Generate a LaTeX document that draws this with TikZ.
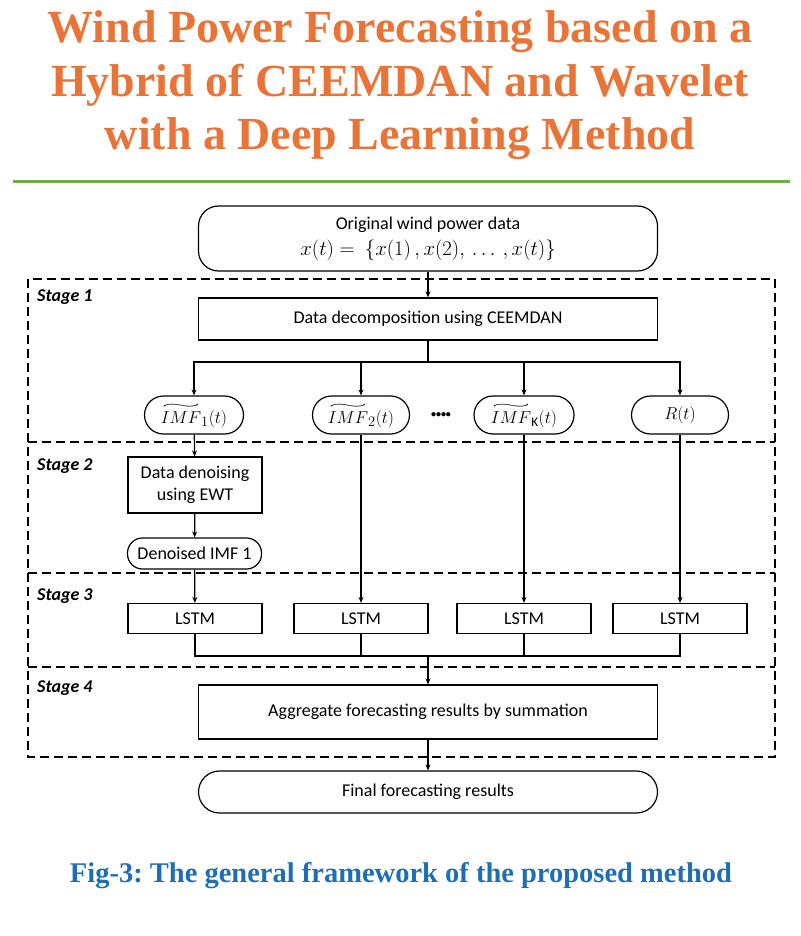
\documentclass[tikz,border=0pt]{standalone}
\usepackage{fontspec}
\usepackage{amsmath}
\usepackage{calc}
\setmainfont{Carlito}
\newfontfamily\titlefont{Liberation Serif}
\usetikzlibrary{arrows.meta}
\definecolor{titleorange}{RGB}{233,116,55}
\definecolor{captionblue}{RGB}{31,110,180}
\definecolor{rulegreen}{RGB}{112,173,71}
\newcommand{\wtilde}[1]{\overset{\resizebox{\widthof{$#1$}}{0.22em}{$\sim$}}{#1}}
\begin{document}
\begin{tikzpicture}[x=1pt, y=-1pt,
    box/.style={rectangle, draw=black, line width=1.2pt, fill=white, inner sep=0pt,
        font=\fontsize{18}{22}\selectfont, align=center},
    pill/.style={box, rounded corners=#1},
    pill/.default=15pt,
    stagebox/.style={draw=black, line width=1.6pt, dash pattern=on 9pt off 5pt},
    stagelabel/.style={anchor=base west, inner sep=0pt, font=\fontsize{18}{22}\selectfont\bfseries\itshape},
    flow/.style={-{Stealth[length=6pt, width=5pt]}, line width=1.2pt},
    link/.style={line width=1.2pt},
    titleline/.style={anchor=base, inner sep=0pt, text=titleorange, font=\titlefont\bfseries\fontsize{46}{52}\selectfont}
]
    \useasboundingbox (0,0) rectangle (800,936);

    % title
    \node[titleline] (t1) at (400,43) {Wind Power Forecasting based on a};
    \node[titleline] (t2) at (400,97) {Hybrid of CEEMDAN and Wavelet};
    \node[titleline] (t3) at (400,150) {with a Deep Learning Method};
    \draw[rulegreen, line width=3pt] (13,182) -- (790,182);

    % stages
    \draw[stagebox] (28,279) rectangle (775,757);
    \draw[stagebox] (28,442) -- (775,442);
    \draw[stagebox] (28,573) -- (775,573);
    \draw[stagebox] (28,667) -- (775,667);
    \node[stagelabel] (s1) at (37,301) {Stage 1};
    \node[stagelabel] (s2) at (37,470) {Stage 2};
    \node[stagelabel] (s3) at (37,600) {Stage 3};
    \node[stagelabel] (s4) at (37,692) {Stage 4};

    % nodes
    \node[pill=20pt, minimum width=459pt, minimum height=65pt] (orig) at (428,238.5)
        {Original wind power data\\[4pt] {\fontsize{20}{24}\selectfont$x(t) =\ \{x(1)\,,x(2),\,\ldots\,,x(t)\}$}};
    \node[box, minimum width=459pt, minimum height=42pt] (ceemdan) at (428,319) {Data decomposition using CEEMDAN};

    \node[pill=19pt, minimum width=99pt, minimum height=38pt, font=\fontsize{19}{22}\selectfont] (imf1) at (194,415) {$\wtilde{IMF}_1(t)$};
    \node[pill=19pt, minimum width=97pt, minimum height=38pt, font=\fontsize{19}{22}\selectfont] (imf2) at (361,415) {$\wtilde{IMF}_2(t)$};
    \node[inner sep=0pt, font=\fontsize{10}{12}\selectfont\bfseries] (dots) at (441,415) {••••};
    \node[pill=19pt, minimum width=100pt, minimum height=38pt, font=\fontsize{19}{22}\selectfont] (imfk) at (524,415) {$\wtilde{IMF}_{\mathrm{K}}(t)$};
    \node[pill=19pt, minimum width=97pt, minimum height=38pt, font=\fontsize{19}{22}\selectfont] (rt) at (680,415) {$R(t)$};

    \node[box, minimum width=134pt, minimum height=56pt] (ewt) at (195,485) {Data denoising\\using EWT};
    \node[pill, minimum width=134pt, minimum height=31pt] (den) at (194.5,553.5) {Denoised IMF 1};

    \node[box, minimum width=134pt, minimum height=30pt] (lstm1) at (195,618.5) {LSTM};
    \node[box, minimum width=134pt, minimum height=30pt] (lstm2) at (361,618.5) {LSTM};
    \node[box, minimum width=134pt, minimum height=30pt] (lstm3) at (524,618.5) {LSTM};
    \node[box, minimum width=134pt, minimum height=30pt] (lstm4) at (680,618.5) {LSTM};

    \node[box, minimum width=459pt, minimum height=54pt] (agg) at (428,712) {Aggregate forecasting results by summation};
    \node[pill=21pt, minimum width=459pt, minimum height=42pt] (final) at (428,792) {Final forecasting results};

    \coordinate (split) at (428,362);
    \coordinate (merge) at (428,656);

    % connectors
    \draw[flow] (orig) -- (ceemdan);
    \draw[link] (ceemdan) -- (split);
    \draw[flow] (split) -| (imf1);
    \draw[flow] (split) -| (imf2);
    \draw[flow] (split) -| (imfk);
    \draw[flow] (split) -| (rt);
    \draw[flow] (imf1) -- (ewt);
    \draw[flow] (ewt) -- (den);
    \draw[flow] (den) -- (lstm1);
    \draw[flow] (imf2) -- (lstm2);
    \draw[flow] (imfk) -- (lstm3);
    \draw[flow] (rt) -- (lstm4);
    \draw[link] (lstm1.south) |- (merge);
    \draw[link] (lstm2.south) |- (merge);
    \draw[link] (lstm3.south) |- (merge);
    \draw[link] (lstm4.south) |- (merge);
    \draw[flow] (merge) -- (agg);
    \draw[flow] (agg) -- (final);

    % caption
    \node[anchor=base, inner sep=0pt, text=captionblue, font=\titlefont\bfseries\fontsize{28.5}{32}\selectfont\frenchspacing] (cap) at (401,882)
        {Fig-3: The general framework of the proposed method};
\end{tikzpicture}
\end{document}
